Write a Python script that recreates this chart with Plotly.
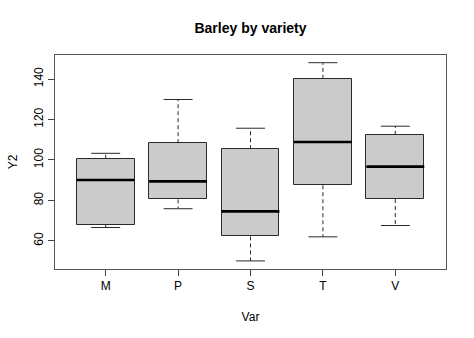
import plotly.graph_objects as go

# Five-number summaries of Y2 per barley variety
varieties = ["M", "P", "S", "T", "V"]
lower_whisker = [66.6, 75.9, 50.1, 62.0, 67.6]
q1 = [67.9, 80.5, 62.2, 87.5, 80.7]
median = [90.1, 89.4, 74.6, 108.9, 96.7]
q3 = [100.6, 108.3, 105.3, 140.1, 112.4]
upper_whisker = [103.3, 129.9, 115.7, 148.1, 116.7]

y_ticks = [60, 80, 100, 120, 140]

pos = list(range(1, len(varieties) + 1))
box_w = 0.8
cap_w = 0.4
edge = "#2a2a2a"

fig = go.Figure()

# dashed whiskers from hinges to extremes
wx, wy = [], []
for i, p in enumerate(pos):
    wx += [p, p, None, p, p, None]
    wy += [q3[i], upper_whisker[i], None, q1[i], lower_whisker[i], None]
fig.add_trace(go.Scatter(x=wx, y=wy, mode="lines",
                         line=dict(color=edge, width=1, dash="4px,3px"),
                         hoverinfo="skip", showlegend=False))

# whisker caps
cx, cy = [], []
for i, p in enumerate(pos):
    for v in (upper_whisker[i], lower_whisker[i]):
        cx += [p - cap_w / 2, p + cap_w / 2, None]
        cy += [v, v, None]
fig.add_trace(go.Scatter(x=cx, y=cy, mode="lines",
                         line=dict(color=edge, width=1),
                         hoverinfo="skip", showlegend=False))

# boxes spanning the interquartile range
fig.add_trace(go.Bar(x=pos, y=[b - a for a, b in zip(q1, q3)], base=q1,
                     width=box_w,
                     marker=dict(color="#cbcbcb", line=dict(color=edge, width=1)),
                     showlegend=False))

# thick median lines
mx, my = [], []
for i, p in enumerate(pos):
    mx += [p - box_w / 2, p + box_w / 2, None]
    my += [median[i], median[i], None]
fig.add_trace(go.Scatter(x=mx, y=my, mode="lines",
                         line=dict(color="black", width=2.6),
                         hoverinfo="skip", showlegend=False))

font = dict(family="Liberation Sans, Arial, sans-serif", size=12, color="black")

fig.update_layout(
    width=474, height=338,
    margin=dict(l=55, r=28, t=55, b=69),
    paper_bgcolor="white", plot_bgcolor="white",
    font=font,
    title=dict(text="<b>Barley by variety</b>", x=(55 + 446) / 2 / 474, xanchor="center",
               y=1 - 28 / 338, yanchor="middle", font=dict(size=14, color="black")),
    xaxis=dict(range=[0.3, 5.7], tickvals=pos, ticktext=varieties,
               ticks="outside", ticklen=6, tickcolor="#444", showgrid=False,
               zeroline=False, showline=True, mirror=True, linecolor="#555",
               linewidth=1,
               title=dict(text="Var", standoff=20, font=dict(size=12))),
    yaxis=dict(range=[46.1, 151.9], tickvals=y_ticks, tickangle=-90,
               ticks="outside", ticklen=6, tickcolor="#444", showgrid=False,
               zeroline=False, showline=True, mirror=True, linecolor="#555",
               linewidth=1,
               title=dict(text="Y2", standoff=12, font=dict(size=12))),
    bargap=0,
)

fig.write_html("out.html")
